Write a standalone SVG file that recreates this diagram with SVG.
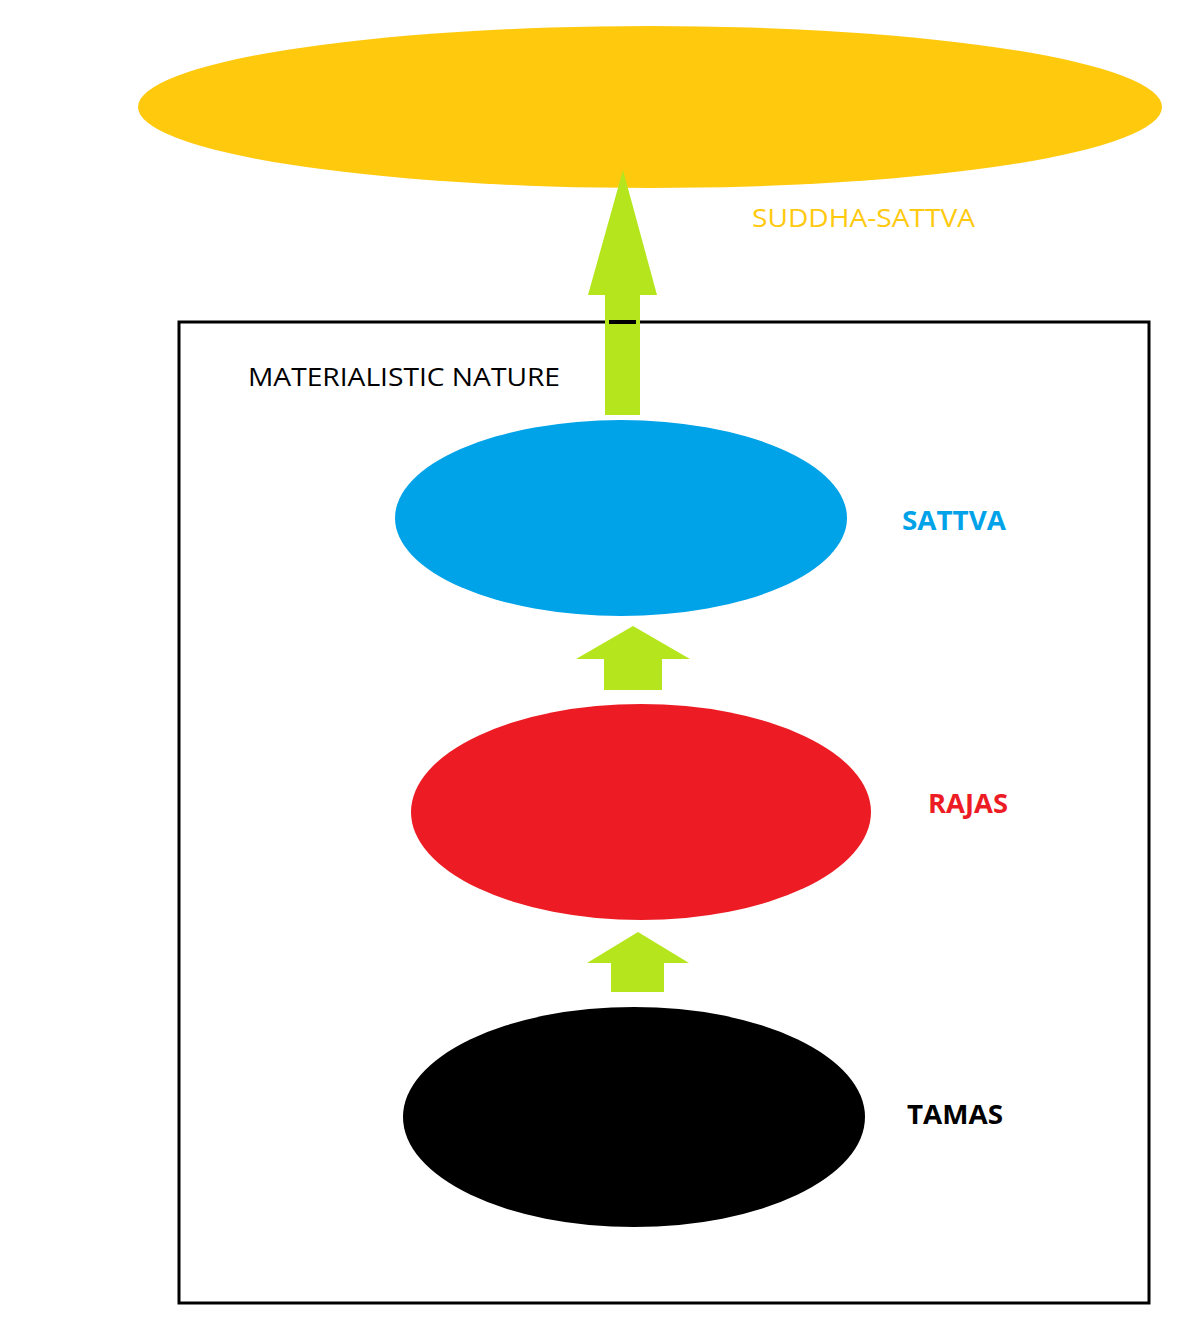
<svg xmlns="http://www.w3.org/2000/svg" width="1200" height="1332" viewBox="0 0 1200 1332">
<style>
.lbl{font-family:"Open Sans","Noto Sans","Liberation Sans",sans-serif;}
.b{font-weight:bold;font-size:26px;}
.arrow{fill:#b5e61d;}
</style>
<rect width="1200" height="1332" fill="#fff"/>
<g id="suddha-sattva">
<ellipse cx="650" cy="107" rx="512" ry="81" fill="#ffc90e"/>
<text class="lbl" x="752" y="227" font-size="25" fill="#ffc90e" textLength="223" lengthAdjust="spacingAndGlyphs">SUDDHA-SATTVA</text>
</g>
<g id="materialistic-nature">
<rect x="179" y="322" width="970" height="981" fill="none" stroke="#000" stroke-width="3"/>
<text class="lbl" x="248" y="386" font-size="26" fill="#000" textLength="312" lengthAdjust="spacingAndGlyphs">MATERIALISTIC NATURE</text>
</g>
<g id="sattva">
<ellipse cx="621" cy="518" rx="226" ry="98" fill="#00a2e8"/>
<text class="lbl b" x="902" y="530" fill="#00a2e8" textLength="104" lengthAdjust="spacingAndGlyphs">SATTVA</text>
</g>
<g id="rajas">
<ellipse cx="641" cy="812" rx="230" ry="108" fill="#ed1c24"/>
<text class="lbl b" x="928" y="813" fill="#ed1c24" textLength="80" lengthAdjust="spacingAndGlyphs">RAJAS</text>
</g>
<g id="tamas">
<ellipse cx="634" cy="1117" rx="231" ry="110" fill="#000"/>
<text class="lbl b" x="907" y="1124" fill="#000" textLength="96" lengthAdjust="spacingAndGlyphs">TAMAS</text>
</g>
<g id="connectors">
<polygon class="arrow" points="623,170 657,295 640,295 640,415 605,415 605,295 588,295"/>
<rect x="609" y="320" width="27" height="4" fill="#000"/>
<polygon class="arrow" points="633,626 690,659 662,659 662,690 604,690 604,659 576,659"/>
<polygon class="arrow" points="638,932 689,963 664,963 664,992 611,992 611,963 587,963"/>
</g>
</svg>
